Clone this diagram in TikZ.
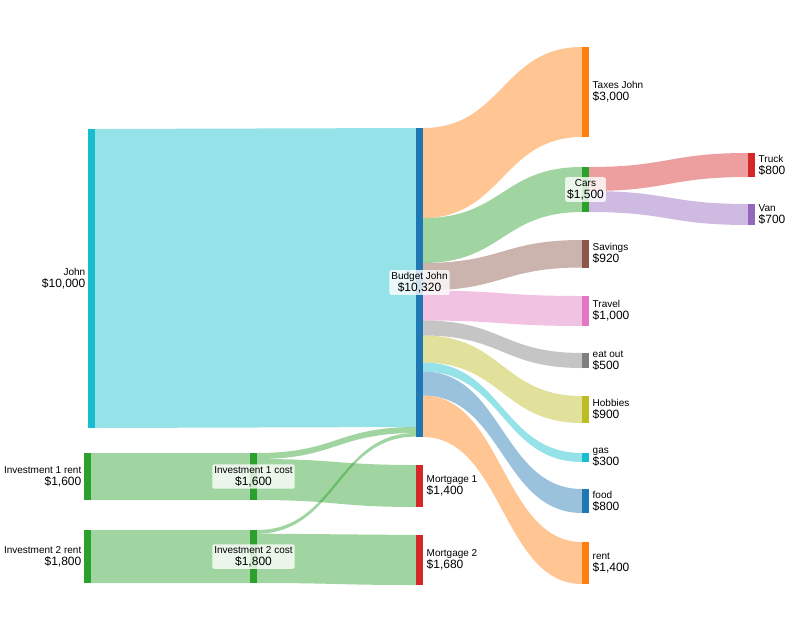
\documentclass[tikz,border=0pt]{standalone}
\usepackage{fontspec}
\setmainfont{Liberation Sans}
\usetikzlibrary{calc}
\definecolor{tblue}{HTML}{1F77B4}
\definecolor{torange}{HTML}{FF7F0E}
\definecolor{tgreen}{HTML}{2CA02C}
\definecolor{tred}{HTML}{D62728}
\definecolor{tpurple}{HTML}{9467BD}
\definecolor{tbrown}{HTML}{8C564B}
\definecolor{tpink}{HTML}{E377C2}
\definecolor{tgray}{HTML}{7F7F7F}
\definecolor{tolive}{HTML}{BCBD22}
\definecolor{tcyan}{HTML}{17BECF}
\newcommand\band[7]{\fill[#7,opacity=.45] (#1,#2) .. controls ({(#1+#4)/2},#2) and ({(#1+#4)/2},#5) .. (#4,#5) -- (#4,#6) .. controls ({(#1+#4)/2},#6) and ({(#1+#4)/2},#3) .. (#1,#3) -- cycle;}
\tikzset{bar/.style={inner sep=0pt,minimum width=7pt},
lab/.style={font=\fontsize{10}{12}\selectfont,align=left,inner sep=1pt},
labr/.style={lab,anchor=west},labl/.style={font=\fontsize{10}{12}\selectfont,align=right,inner sep=1pt,anchor=east},
labc/.style={lab,align=center,fill=white,fill opacity=.8,text opacity=1,rounded corners=2pt,inner sep=2pt}}
\newcommand\barnode[5]{\fill[#5] (#2,#3) rectangle ({#2+7},#4); \coordinate (#1) at ({#2+3.5},{(#3+#4)/2});}
\begin{document}
\begin{tikzpicture}[x=1pt,y=-1pt]
\useasboundingbox (0,0) rectangle (794,635);
% links
\band{95}{129}{428}{416}{128}{427}{tcyan}
\band{257}{453}{459}{416}{427}{433}{tgreen}
\band{257}{530}{533.6}{416}{433}{436.6}{tgreen}
\band{91}{453}{500}{250}{453}{500}{tgreen}
\band{91}{530}{583}{250}{530}{583}{tgreen}
\band{257}{459}{500}{416}{465}{507}{tgreen}
\band{257}{533.6}{583}{416}{535}{585}{tgreen}
\band{423}{128}{218}{582}{47}{137}{torange}
\band{423}{218}{263}{582}{167}{212}{tgreen}
\band{423}{263}{290.5}{582}{240}{267.5}{tbrown}
\band{423}{290.5}{320.5}{582}{296}{326}{tpink}
\band{423}{320.5}{335.5}{582}{353}{368}{tgray}
\band{423}{335.5}{362.5}{582}{396}{423}{tolive}
\band{423}{362.5}{371.5}{582}{453}{462}{tcyan}
\band{423}{371.5}{395.5}{582}{489}{513}{tblue}
\band{423}{395.5}{437}{582}{542}{584}{torange}
\band{589}{167}{191}{748}{153}{177}{tred}
\band{589}{191}{212}{748}{204}{225}{tpurple}
% bars
\barnode{john}{88}{129}{428}{tcyan}
\barnode{inv1}{84}{453}{500}{tgreen}
\barnode{inv2}{84}{530}{583}{tgreen}
\barnode{c1}{250}{453}{500}{tgreen}
\barnode{c2}{250}{530}{583}{tgreen}
\barnode{bud}{416}{128}{437}{tblue}
\barnode{m1}{416}{465}{507}{tred}
\barnode{m2}{416}{535}{585}{tred}
\barnode{tax}{582}{47}{137}{torange}
\barnode{cars}{582}{167}{212}{tgreen}
\barnode{sav}{582}{240}{267.5}{tbrown}
\barnode{trav}{582}{296}{326}{tpink}
\barnode{eat}{582}{353}{368}{tgray}
\barnode{hob}{582}{396}{423}{tolive}
\barnode{gas}{582}{453}{462}{tcyan}
\barnode{food}{582}{489}{513}{tblue}
\barnode{rent}{582}{542}{584}{torange}
\barnode{truck}{748}{153}{177}{tred}
\barnode{van}{748}{204}{225}{tpurple}
% labels
\node[labl] (lj) at ($(john)+(-5,0)$) {John\\\large\$10,000};
\node[labl] (li1) at ($(inv1)+(-5,0)$) {Investment 1 rent\\\large\$1,600};
\node[labl] (li2) at ($(inv2)+(-5,0)$) {Investment 2 rent\\\large\$1,800};
\node[labc] (lc1) at (c1) {Investment 1 cost\\\large\$1,600};
\node[labc] (lc2) at (c2) {Investment 2 cost\\\large\$1,800};
\node[labc] (lb) at (bud) {Budget John\\\large\$10,320};
\node[labc] (lcar) at (cars) {Cars\\\large\$1,500};
\node[labr] at ($(m1)+(6,0)$) {Mortgage 1\\\large\$1,400};
\node[labr] at ($(m2)+(6,0)$) {Mortgage 2\\\large\$1,680};
\node[labr] at ($(tax)+(6,0)$) {Taxes John\\\large\$3,000};
\node[labr] at ($(sav)+(6,0)$) {Savings\\\large\$920};
\node[labr] at ($(trav)+(6,0)$) {Travel\\\large\$1,000};
\node[labr] at ($(eat)+(6,0)$) {eat out\\\large\$500};
\node[labr] at ($(hob)+(6,0)$) {Hobbies\\\large\$900};
\node[labr] at ($(gas)+(6,0)$) {gas\\\large\$300};
\node[labr] at ($(food)+(6,0)$) {food\\\large\$800};
\node[labr] at ($(rent)+(6,0)$) {rent\\\large\$1,400};
\node[labr] at ($(truck)+(6,0)$) {Truck\\\large\$800};
\node[labr] at ($(van)+(6,0)$) {Van\\\large\$700};
\end{tikzpicture}
\end{document}
